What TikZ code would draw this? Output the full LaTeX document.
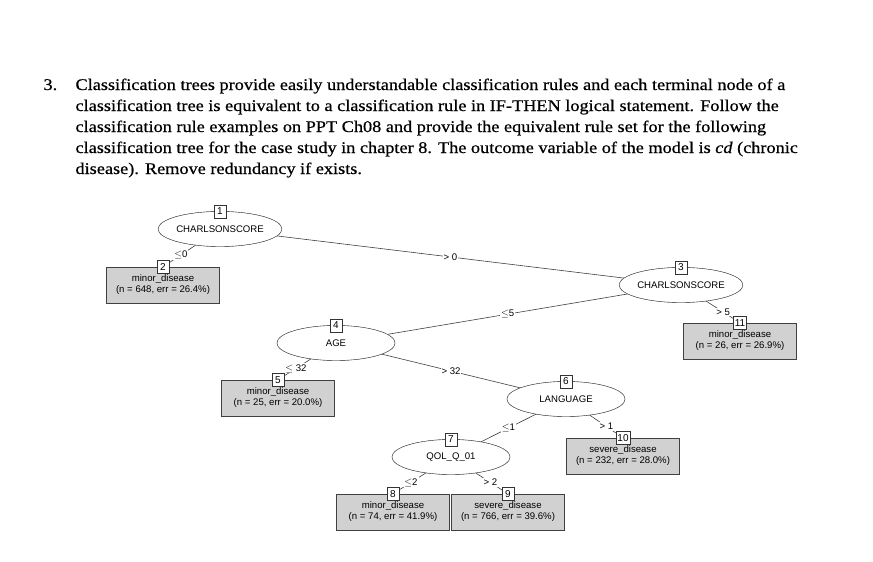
\documentclass[tikz,border=0pt]{standalone}
\usepackage{fontspec}
\setmainfont{Liberation Serif}[FakeStretch=1.12,FakeBold=0.6]
\newfontfamily\arialf{Liberation Sans}
\usetikzlibrary{shapes.geometric}
\begin{document}
\begin{tikzpicture}[x=1pt,y=-1pt,
  split/.style={ellipse,draw=black!75,fill=white,minimum width=118pt,minimum height=35pt,inner sep=0pt,font=\arialf\fontsize{9.6}{10}\selectfont},
  leaf/.style={rectangle,draw=black!75,fill=black!18,minimum width=113pt,minimum height=36pt,inner sep=0pt,align=center,font=\arialf\fontsize{9.6}{11}\selectfont},
  num/.style={rectangle,draw=black!80,fill=white,inner sep=1.5pt,minimum width=12pt,minimum height=13pt,font=\arialf\fontsize{10}{10}\selectfont},
  edge/.style={draw=black!75,line width=0.6pt},
  lbl/.style={fill=white,inner sep=1pt,font=\arialf\fontsize{9.6}{10}\selectfont},
  q/.style={anchor=base west,font=\fontsize{16.3}{18}\selectfont}]
\useasboundingbox (0,0) rectangle (873,562);
% question text
\node[q] (qn) at (40,90) {3.};
\node[q] (q1) at (72,90) {Classification trees provide easily understandable classification rules and each terminal node of a};
\node[q] (q2) at (72,111) {classification tree is equivalent to a classification rule in IF-THEN logical statement. Follow the};
\node[q] (q3) at (72,132) {classification rule examples on PPT Ch08 and provide the equivalent rule set for the following};
\node[q] (q4) at (72,153) {classification tree for the case study in chapter 8. The outcome variable of the model is \textit{cd} (chronic};
\node[q] (q5) at (72,174) {disease). Remove redundancy if exists.};
% nodes
\node[split] (n1) at (220,229) {CHARLSONSCORE};
\node[leaf] (n2) at (163,285) {minor\_disease\\(n = 648, err = 26.4\%)};
\node[split] (n3) at (681,285) {CHARLSONSCORE};
\node[leaf] (n11) at (740,341) {minor\_disease\\(n = 26, err = 26.9\%)};
\node[split] (n4) at (336,343) {AGE};
\node[leaf] (n5) at (278,398) {minor\_disease\\(n = 25, err = 20.0\%)};
\node[split] (n6) at (566,399) {LANGUAGE};
\node[leaf] (n10) at (623,456) {severe\_disease\\(n = 232, err = 28.0\%)};
\node[split] (n7) at (451,457) {QOL\_Q\_01};
\node[leaf] (n8) at (393,512) {minor\_disease\\(n = 74, err = 41.9\%)};
\node[leaf] (n9) at (508,512) {severe\_disease\\(n = 766, err = 39.6\%)};
% edges
\draw[edge] (n1) -- node[lbl,pos=0.45]{$\leq$0} (n2.north);
\draw[edge] (n1) -- node[lbl]{> 0} (n3);
\draw[edge] (n3) -- node[lbl,pos=0.5]{> 5} (n11.north);
\draw[edge] (n3) -- node[lbl]{$\leq$5} (n4);
\draw[edge] (n4) -- node[lbl,pos=0.45]{$\leq$ 32} (n5.north);
\draw[edge] (n4) -- node[lbl]{> 32} (n6);
\draw[edge] (n6) -- node[lbl]{$\leq$1} (n7);
\draw[edge] (n6) -- node[lbl]{> 1} (n10.north);
\draw[edge] (n7) -- node[lbl,pos=0.45]{$\leq$2} (n8.north);
\draw[edge] (n7) -- node[lbl,pos=0.45]{> 2} (n9.north);
% redraw nodes on top
\foreach \n/\t in {n1/CHARLSONSCORE,n3/CHARLSONSCORE,n4/AGE,n6/LANGUAGE,n7/QOL\_Q\_01}
  \node[split] at (\n) {\t};
\node[leaf] at (n2) {minor\_disease\\(n = 648, err = 26.4\%)};
\node[leaf] at (n11) {minor\_disease\\(n = 26, err = 26.9\%)};
\node[leaf] at (n5) {minor\_disease\\(n = 25, err = 20.0\%)};
\node[leaf] at (n10) {severe\_disease\\(n = 232, err = 28.0\%)};
\node[leaf] at (n8) {minor\_disease\\(n = 74, err = 41.9\%)};
\node[leaf] at (n9) {severe\_disease\\(n = 766, err = 39.6\%)};
% number tags
\node[num] (t1) at (n1.north) {1};
\node[num] (t2) at (n2.north) {2};
\node[num] (t3) at (n3.north) {3};
\node[num] (t4) at (n4.north) {4};
\node[num] (t5) at (n5.north) {5};
\node[num] (t6) at (n6.north) {6};
\node[num] (t7) at (n7.north) {7};
\node[num] (t8) at (n8.north) {8};
\node[num] (t9) at (n9.north) {9};
\node[num] (t10) at (n10.north) {10};
\node[num] (t11) at (n11.north) {11};
\end{tikzpicture}
\end{document}
